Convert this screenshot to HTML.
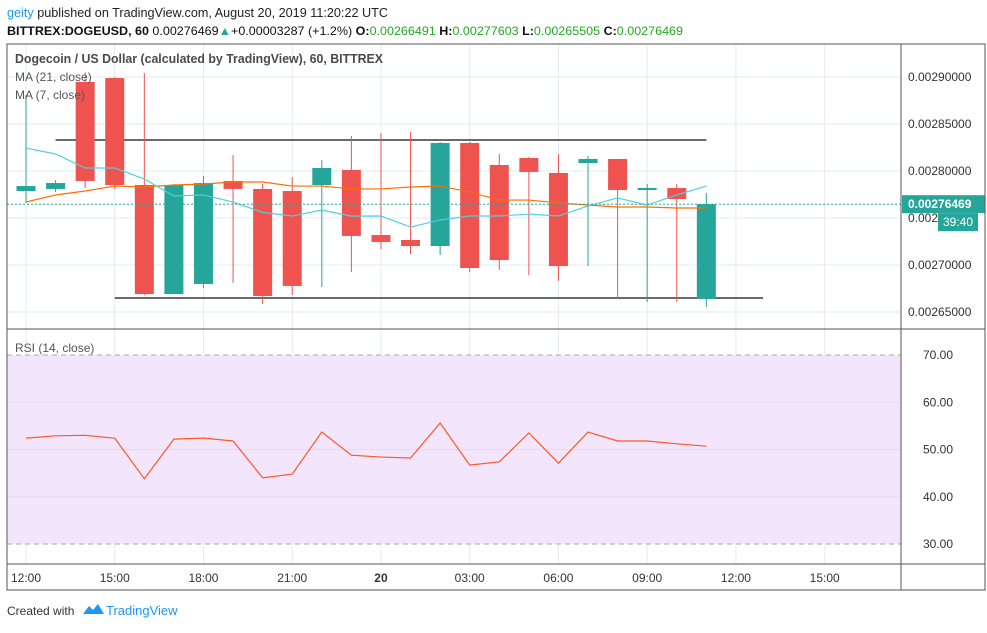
<!DOCTYPE html>
<html><head><meta charset="utf-8"><style>
body{margin:0;background:#fff;font-family:"Liberation Sans",Arial,sans-serif;}
svg text{font-family:"Liberation Sans",Arial,sans-serif;}
</style></head><body>
<svg id="c" width="987" height="628" xmlns="http://www.w3.org/2000/svg">
<rect width="987" height="628" fill="#fff"/>
<text x="7" y="17" font-size="13" fill="#222" textLength="381" lengthAdjust="spacingAndGlyphs"><tspan fill="#2196f3">geity</tspan> published on TradingView.com, August 20, 2019 11:20:22 UTC</text>
<text x="7" y="35" font-size="12" fill="#111" font-weight="bold" textLength="676" lengthAdjust="spacingAndGlyphs">BITTREX:DOGEUSD, 60 <tspan font-weight="normal">0.00276469</tspan><tspan fill="#26a69a">▲</tspan><tspan font-weight="normal">+0.00003287 (+1.2%)</tspan> O:<tspan fill="#22aa22" font-weight="normal">0.00266491</tspan> H:<tspan fill="#22aa22" font-weight="normal">0.00277603</tspan> L:<tspan fill="#22aa22" font-weight="normal">0.00265505</tspan> C:<tspan fill="#22aa22" font-weight="normal">0.00276469</tspan></text>
<g id="grid"></g>
<rect x="7" y="355" width="894" height="189" fill="#f3e6fc"/>
<g id="rsigrid"></g>
<g id="marks"></g>
<rect x="7" y="44" width="978" height="546" fill="none" stroke="#555" stroke-width="1"/>
<line x1="7" y1="329" x2="985" y2="329" stroke="#555"/>
<line x1="901" y1="44" x2="901" y2="590" stroke="#555"/>
<line x1="7" y1="564" x2="985" y2="564" stroke="#555"/>
<text x="15" y="63" font-size="13" fill="#4a4a4a" font-weight="bold" textLength="368" lengthAdjust="spacingAndGlyphs">Dogecoin / US Dollar (calculated by TradingView), 60, BITTREX</text>
<text x="15" y="81" font-size="12" fill="#555">MA (21, close)</text>
<text x="15" y="99" font-size="12" fill="#555">MA (7, close)</text>
<text x="15" y="352" font-size="12" fill="#555">RSI (14, close)</text>
<text x="7" y="615" font-size="12" fill="#333">Created with</text>
<path d="M83 614 l6 -8 l4 4 l5 -6 l6 10 z" fill="#2196f3"/>
<text x="106" y="615" font-size="13" fill="#2196f3">TradingView</text>
</svg>
<script>
const times=["12:00","15:00","18:00","21:00","20","03:00","06:00","09:00","12:00","15:00"];
const priceTicks=[0.0029,0.00285,0.0028,0.00275,0.0027,0.00265];
const rsiTicks=[70,60,50,40,30];
const opens =[0.0027787,0.0027809,0.0028947,0.0028989,0.0027851,0.0026691,0.0026798,0.0027894,0.0027809,0.0027787,0.0027851,0.0028011,0.0027319,0.0027266,0.0027202,0.0028298,0.0028064,0.0028138,0.0027979,0.0028085,0.0028128,0.0027798,0.0027819,0.0026638];
const closes=[0.002784,0.0027872,0.0027894,0.0027851,0.0026691,0.0027851,0.0027872,0.0027809,0.002667,0.0026777,0.0028032,0.0027309,0.0027245,0.0027202,0.0028298,0.0026968,0.0027053,0.002799,0.0026989,0.0028128,0.0027798,0.0027819,0.0027702,0.0027647];
const highs =[0.0028809,0.0027904,0.002905,0.0029,0.0029043,0.0027862,0.0027947,0.002817,0.0027862,0.0027936,0.0028117,0.0028372,0.0028404,0.0028415,0.0028309,0.0028309,0.0028181,0.0028149,0.0028181,0.002816,0.0028128,0.0027862,0.0027862,0.0027766];
const lows  =[0.002766,0.0027777,0.0027819,0.0027809,0.002668,0.0026691,0.0026755,0.0026809,0.0026585,0.002668,0.0026766,0.0026926,0.002717,0.0027117,0.0027106,0.0026926,0.0026947,0.0026894,0.002683,0.0026989,0.0026638,0.0026606,0.0026606,0.0026553];
const ma7=[0.0028244,0.0028181,0.0028032,0.0028032,0.0027915,0.0027734,0.0027745,0.002767,0.002756,0.0027521,0.0027585,0.002752,0.0027521,0.0027404,0.0027479,0.0027521,0.0027521,0.0027542,0.0027521,0.0027628,0.0027713,0.0027638,0.0027745,0.0027840];
const ma21=[0.0027670,0.0027745,0.0027787,0.002784,0.002783,0.0027851,0.0027862,0.0027883,0.0027883,0.002784,0.002784,0.0027809,0.0027809,0.002783,0.002784,0.0027777,0.0027691,0.0027691,0.0027660,0.0027638,0.0027617,0.0027617,0.0027606,0.0027606];
const rsi=[52.4,52.9,53,52.4,43.8,52.2,52.4,51.8,44,44.8,53.7,48.8,48.4,48.2,55.6,46.7,47.4,53.5,47.1,53.7,51.8,51.8,51.2,50.7];
const lastPrice=0.00276469;
const NS="http://www.w3.org/2000/svg";
const X=i=>26+i*29.58;
const Y=p=>77+(0.0029-p)/0.00005*47;
const RY=v=>544-(v-30)*4.725;
function mk(tag,attrs,parent){const e=document.createElementNS(NS,tag);for(const k in attrs)e.setAttribute(k,attrs[k]);document.getElementById(parent).appendChild(e);return e;}
times.forEach((t,i)=>{const x=X(i*3);
 let l=mk('line',{x1:x,y1:44,x2:x,y2:564,stroke:'#e1ecf2'},'grid');
 
 
 let tx=mk('text',{x:x,y:582,'font-size':12,fill:'#333','text-anchor':'middle'},'marks');tx.textContent=t;
 if(t==="20")tx.setAttribute('font-weight','bold');
 
 
});
priceTicks.forEach(p=>{const y=Y(p);
 let l=mk('line',{x1:7,y1:y,x2:901,y2:y,stroke:'#e1ecf2'},'grid');
 
 
 let t=mk('text',{x:908,y:y+4,'font-size':12,fill:'#333'},'marks');t.textContent=p.toFixed(8);
 
 
});
rsiTicks.forEach(v=>{const y=RY(v);const edge=(v===70||v===30);
 let l=mk('line',{x1:7,y1:y,x2:901,y2:y,stroke:edge?'#aaa':'#e4dcea','stroke-dasharray':edge?'5,4':''},'rsigrid');
 
 
 let t=mk('text',{x:923,y:y+4,'font-size':12,fill:'#333'},'marks');t.textContent=v.toFixed(2);
 
 
});
let r=mk('line',{x1:X(1),y1:140,x2:X(23),y2:140,stroke:'#111','stroke-width':1.3},'marks');


let s=mk('line',{x1:X(3),y1:298,x2:763,y2:298,stroke:'#111','stroke-width':1.3},'marks');


opens.forEach((o,i)=>{const c=closes[i];const col=c>=o?'#26a69a':'#ef5350';const x=X(i);
 let w=mk('line',{x1:x,y1:Y(highs[i]),x2:x,y2:Y(lows[i]),stroke:col,'stroke-width':1},'marks');
 
 
 const t=Math.min(Y(o),Y(c)),h=Math.max(2,Math.abs(Y(o)-Y(c)));
 let b=mk('rect',{x:x-9.5,y:t,width:19,height:h,fill:col},'marks');
 
 
});
function line(arr,f,col,name){let p=mk('polyline',{points:arr.map((v,i)=>X(i)+','+f(v)).join(' '),fill:'none',stroke:col,'stroke-width':1.2},'marks');
 
 }
line(ma21,Y,'#ff6d00','ma21-line');
line(ma7,Y,'#4dd0e1','ma7-line');
line(rsi,RY,'#ff5722','rsi-line');
const ly=Y(lastPrice);
let pl=mk('line',{x1:7,y1:ly,x2:901,y2:ly,stroke:'#26a69a','stroke-dasharray':'2,2'},'marks');


let lb=mk('rect',{x:902,y:ly-9,width:83,height:18,fill:'#26a69a'},'marks');


let lt=mk('text',{x:908,y:ly+4,'font-size':12,fill:'#fff','font-weight':'bold'},'marks');lt.textContent=lastPrice.toFixed(8);


let cb=mk('rect',{x:938,y:ly+9,width:40,height:18,fill:'#26a69a'},'marks');


let ct=mk('text',{x:943,y:ly+22,'font-size':12,fill:'#fff'},'marks');ct.textContent="39:40";


</script>
</body></html>
